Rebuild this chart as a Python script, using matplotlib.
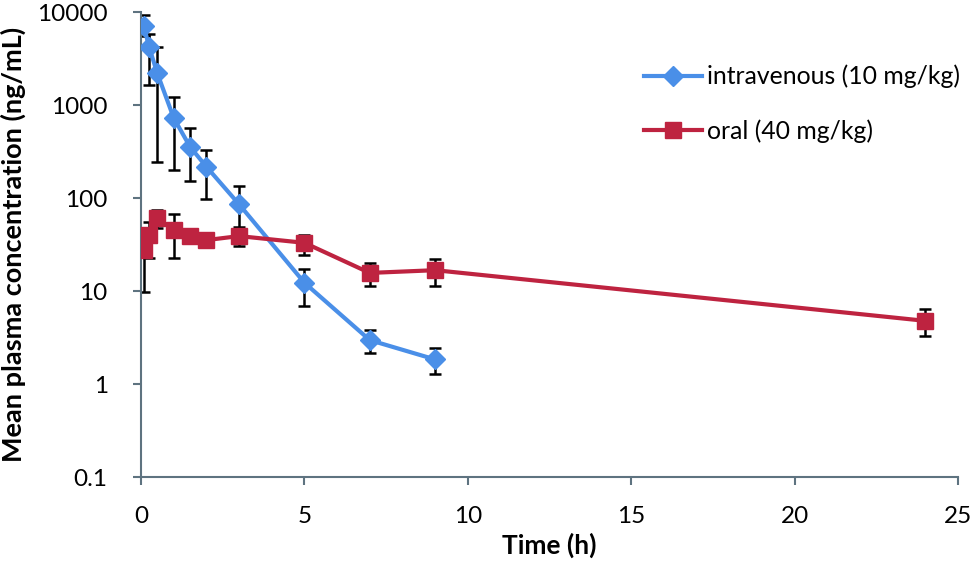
import matplotlib
matplotlib.use("Agg")
import matplotlib.pyplot as plt
from matplotlib.ticker import FixedLocator, FixedFormatter, NullLocator

# time points (h)
iv_time = [0.083, 0.25, 0.5, 1, 1.5, 2, 3, 5, 7, 9]
iv_mean = [7200, 4200, 2200, 730, 357, 218, 86, 12.3, 2.97, 1.84]
iv_low = [5600, 1650, 247, 200, 154, 98, 49, 6.9, 2.17, 1.28]
iv_high = [9400, 5800, 4260, 1240, 568, 330, 134, 17.5, 3.8, 2.42]

po_time = [0.083, 0.25, 0.5, 1, 1.5, 2, 3, 5, 7, 9, 24]
po_mean = [27.6, 40.1, 60.6, 45.4, 39.1, 35.4, 39.1, 33.1, 15.7, 16.8, 4.79]
po_low = [9.85, 22.5, 47.3, 22.5, 32.6, 31.0, 30.5, 24.4, 11.3, 11.3, 3.28]
po_high = [33.0, 55.7, 74.5, 67.5, 44.0, 40.0, 44.0, 40.0, 19.9, 21.9, 6.36]

x_ticks = [0, 5, 10, 15, 20, 25]
y_ticks = [0.1, 1, 10, 100, 1000, 10000]
y_labels = ["0.1", "1", "10", "100", "1000", "10000"]

blue = "#4a8fe8"
red = "#be2340"
axcol = "#5e7380"

plt.rcParams['font.family'] = ['Lato', 'DejaVu Sans']

fig = plt.figure(figsize=(9.8, 5.67), dpi=100)
ax = fig.add_axes([0.1439, 0.1587, 0.8337, 0.8196])

def draw(t, m, lo, hi, col, mk, ms, lab):
    yerr = [[a - b for a, b in zip(m, lo)], [c - a for a, c in zip(m, hi)]]
    ax.errorbar(t, m, yerr=yerr, fmt="none", ecolor="black", elinewidth=1.8,
                capsize=4, capthick=1.8, zorder=2)
    ax.plot(t, m, color=col, lw=3, marker=mk, ms=ms, mfc=col, mec=col,
            label=lab, zorder=3)

draw(iv_time, iv_mean, iv_low, iv_high, blue, "D", 10, "intravenous (10 mg/kg)")
draw(po_time, po_mean, po_low, po_high, red, "s", 11.5, "oral (40 mg/kg)")

ax.set_yscale("log")
ax.set_xlim(0, 25)
ax.set_ylim(0.1, 10000)
ax.xaxis.set_major_locator(FixedLocator(x_ticks))
ax.yaxis.set_major_locator(FixedLocator(y_ticks))
ax.yaxis.set_major_formatter(FixedFormatter(y_labels))
ax.yaxis.set_minor_locator(NullLocator())

for s in ["top", "right"]:
    ax.spines[s].set_visible(False)
for s in ["left", "bottom"]:
    ax.spines[s].set_color(axcol)
    ax.spines[s].set_linewidth(1.5)
ax.tick_params(axis="both", colors=axcol, width=1.5, length=6, labelsize=17.5,
               labelcolor="black")
ax.tick_params(axis="y", pad=18)
ax.tick_params(axis="x", pad=15)

ax.set_xlabel("Time (h)", fontsize=19, fontweight="bold", labelpad=4)
ax.set_ylabel("Mean plasma concentration (ng/mL)", fontsize=19.5,
              fontweight="bold", labelpad=8)

ax.legend(loc="upper left", bbox_to_anchor=(0.588, 0.935), frameon=False,
          fontsize=17.8, handlelength=2.36, handletextpad=0.2, labelspacing=1.25)

fig.savefig("out.png", dpi=100)
